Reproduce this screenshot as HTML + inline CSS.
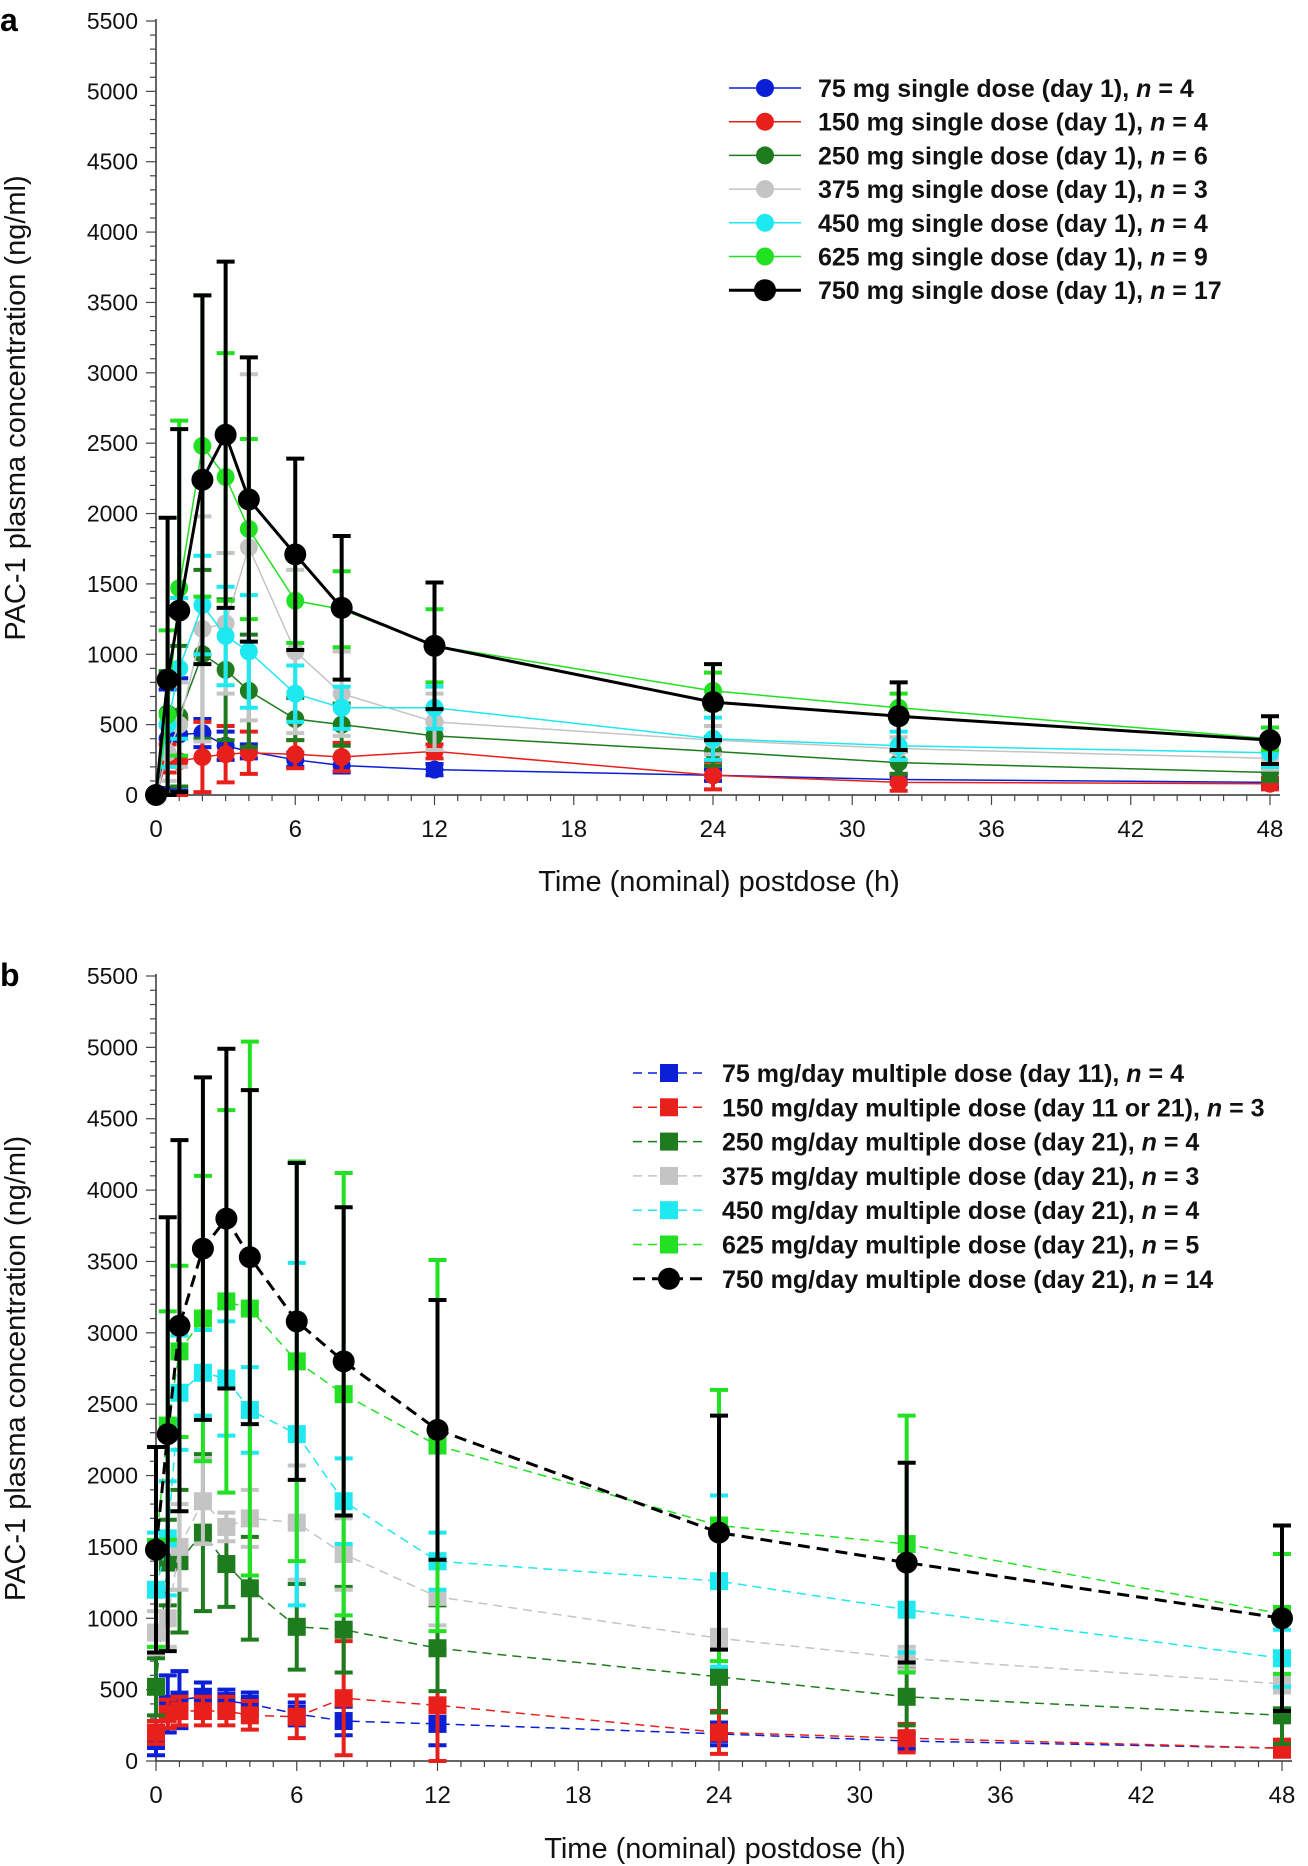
<!DOCTYPE html>
<html><head><meta charset="utf-8"><style>
html,body{margin:0;padding:0;background:#fff;}
svg{display:block;font-family:"Liberation Sans",Arial,sans-serif;}
</style></head><body>
<svg id="fig" width="1308" height="1866" viewBox="0 0 1308 1866" xmlns="http://www.w3.org/2000/svg"></svg>
<script>
const times=[0,0.5,1,2,3,4,6,8,12,24,32,48];
const xTicks=[0,6,12,18,24,30,36,42,48];
const yTicks=[0,500,1000,1500,2000,2500,3000,3500,4000,4500,5000,5500];
const colors=["#0a1fd6","#e8201c","#1e7b1e","#c4c4c4","#1ee8f0","#22e022","#000000"];
const labelsA=["75 mg single dose (day 1), ","150 mg single dose (day 1), ","250 mg single dose (day 1), ","375 mg single dose (day 1), ","450 mg single dose (day 1), ","625 mg single dose (day 1), ","750 mg single dose (day 1), "];
const nA=["4","4","6","3","4","9","17"];
const labelsB=["75 mg/day multiple dose (day 11), ","150 mg/day multiple dose (day 11 or 21), ","250 mg/day multiple dose (day 21), ","375 mg/day multiple dose (day 21), ","450 mg/day multiple dose (day 21), ","625 mg/day multiple dose (day 21), ","750 mg/day multiple dose (day 21), "];
const nB=["4","3","4","3","4","5","14"];
const a75=[0,400,430,440,350,310,250,210,180,140,110,90];
const a75sd=[0,350,400,100,100,50,50,50,40,40,30,30];
const a150=[0,260,240,270,290,300,290,270,310,140,90,80];
const a150sd=[0,100,300,250,200,150,100,100,50,100,60,40];
const a250=[0,580,560,1000,890,740,540,500,420,310,230,160];
const a250sd=[0,300,500,600,500,400,150,150,100,100,80,60];
const a375=[0,300,500,1180,1220,1760,1020,720,520,390,330,260];
const a375sd=[0,200,300,800,500,1230,580,300,200,100,80,80];
const a450=[0,500,900,1350,1130,1020,720,620,620,400,350,300];
const a450sd=[0,300,500,350,350,400,200,150,150,150,100,100];
const a625=[0,570,1470,2480,2260,1890,1380,1320,1060,740,620,400];
const a625sd=[0,600,1190,1070,880,640,300,270,260,130,100,80];
const a750=[0,820,1310,2240,2560,2100,1710,1330,1060,660,560,390];
const a750sd=[0,1150,1290,1310,1230,1010,680,510,450,270,240,170];
const b75=[140,400,430,450,420,400,330,280,260,190,140,90];
const b75sd=[100,200,200,100,80,80,80,100,150,80,60,40];
const b150=[200,330,350,350,350,320,310,440,390,200,160,90];
const b150sd=[80,100,100,100,100,100,150,400,400,150,100,60];
const b250=[520,1390,1400,1600,1380,1210,940,920,790,590,450,320];
const b250sd=[200,300,500,550,300,360,300,300,300,250,200,200];
const b375=[900,1000,1500,1820,1640,1700,1670,1450,1150,860,720,540];
const b375sd=[150,200,300,300,100,200,400,250,200,60,80,60];
const b450=[1200,1560,2580,2720,2680,2460,2290,1820,1400,1260,1060,720];
const b450sd=[400,400,400,300,400,300,1200,300,200,600,300,200];
const b625=[1500,2350,2870,3100,3220,3170,2800,2570,2210,1650,1520,1030];
const b625sd=[700,800,600,1000,1340,1870,1400,1550,1300,950,900,420];
const b750=[1480,2290,3050,3590,3800,3530,3080,2800,2320,1600,1390,1000];
const b750sd=[720,1520,1300,1200,1190,1170,1110,1080,910,820,700,650];

const NS="http://www.w3.org/2000/svg";
const svg=document.getElementById('fig');
function mk(tag,attrs,parent){const e=document.createElementNS(NS,tag);for(const k in attrs)e.setAttribute(k,attrs[k]);(parent||svg).appendChild(e);return e;}

function panel(cfg){
  const g=mk('g',{});
  
  
  const X=t=>cfg.x0+(cfg.x1-cfg.x0)*t/48;
  const Y=v=>cfg.y0-(cfg.y0-cfg.y1)*v/5500;
  const ax=mk('line',{x1:cfg.x0,y1:cfg.y0,x2:cfg.x0,y2:cfg.y1-2,stroke:'#333','stroke-width':1.5},g);
  
  
  const axx=mk('line',{x1:cfg.x0,y1:cfg.y0,x2:cfg.x1+10,y2:cfg.y0,stroke:'#333','stroke-width':1.5},g);
  
  
  for(let v=0;v<=5500;v+=100){const major=v%500===0;mk('line',{x1:cfg.x0-(major?10:6),x2:cfg.x0,y1:Y(v),y2:Y(v),stroke:'#444','stroke-width':1.2},g);}
  yTicks.forEach(v=>{const t=mk('text',{x:cfg.x0-18,y:Y(v)+8,'text-anchor':'end','font-size':23,fill:'#111'},g);t.textContent=v;
    
    });
  for(let h=0;h<=48;h++){const major=h%6===0;mk('line',{x1:X(h),x2:X(h),y1:cfg.y0,y2:cfg.y0+(major?10:6),stroke:'#444','stroke-width':1.2},g);}
  xTicks.forEach(h=>{const t=mk('text',{x:X(h),y:cfg.y0+42,'text-anchor':'middle','font-size':24,fill:'#111'},g);t.textContent=h;
    
    });
  const xt=mk('text',{x:(cfg.x0+cfg.x1)/2+6,y:cfg.xTitleY,'text-anchor':'middle','font-size':29,fill:'#111'},g);
  xt.textContent='Time (nominal) postdose (h)';
  
  
  const yc=(cfg.y0+cfg.y1)/2;
  const yt=mk('text',{x:0,y:0,transform:`translate(25,${yc}) rotate(-90)`,'text-anchor':'middle','font-size':29,fill:'#111'},g);
  yt.textContent='PAC-1 plasma concentration (ng/ml)';
  
  
  const pl=mk('text',{x:0,y:cfg.y1+10,'font-size':32,'font-weight':'bold',fill:'#000'},g);
  pl.textContent=cfg.letter;
  
  
  cfg.series.forEach((s,i)=>{
    const sg=mk('g',{},g);
    
    
    const big=i===6;
    const lw=big?3:1.5;
    const pts=times.map((t,j)=>X(t)+','+Y(s.m[j])).join(' ');
    mk('polyline',{points:pts,fill:'none',stroke:colors[i],'stroke-width':lw,'stroke-dasharray':cfg.dash?(big?'12,7':'9,6'):'none'},sg);
    times.forEach((t,j)=>{
      const x=X(t),m=s.m[j],sd=s.sd[j];
      if(sd>0){
        const lo=Math.max(0,m-sd),hi=m+sd;
        mk('line',{x1:x,x2:x,y1:Y(lo),y2:Y(hi),stroke:colors[i],'stroke-width':4},sg);
        [lo,hi].forEach(v=>mk('line',{x1:x-9,x2:x+9,y1:Y(v),y2:Y(v),stroke:colors[i],'stroke-width':4},sg));
      }
      let mark;
      if(cfg.dash&&!big){mark=mk('rect',{x:x-9,y:Y(m)-9,width:18,height:18,fill:colors[i]},sg);}
      else mark=mk('circle',{cx:x,cy:Y(m),r:big?11:9,fill:colors[i]},sg);
      
      
    });
  });
  const lg=mk('g',{},g);
  
  
  cfg.labels.forEach((lab,i)=>{
    const y=cfg.legY+i*cfg.legStep;
    const e=mk('g',{},lg);
    
    
    const big=i===6;
    mk('line',{x1:cfg.legX-36,x2:cfg.legX+36,y1:y,y2:y,stroke:colors[i],'stroke-width':big?3:1.5,'stroke-dasharray':cfg.dash?(big?'12,7':'9,6'):'none'},e);
    if(cfg.dash&&!big) mk('rect',{x:cfg.legX-9,y:y-9,width:18,height:18,fill:colors[i]},e);
    else mk('circle',{cx:cfg.legX,cy:y,r:big?11:9,fill:colors[i]},e);
    const t=mk('text',{x:cfg.legX+53,y:y+9,'font-size':25,'font-weight':'bold',fill:'#111'},e);
    t.textContent=lab;
    const ts=mk('tspan',{'font-style':'italic'},t);ts.textContent='n';
    const ts2=mk('tspan',{},t);ts2.textContent=' = '+cfg.ns[i];
  });
}
const doses=['75','150','250','375','450','625','750'];
panel({name:'panel-a',letter:'a',x0:156,x1:1270,y0:795,y1:21,xTitleY:891,dash:false,legX:765,legY:88,legStep:33.7,labels:labelsA,ns:nA,
  series:[[a75,a75sd],[a150,a150sd],[a250,a250sd],[a375,a375sd],[a450,a450sd],[a625,a625sd],[a750,a750sd]].map((p,i)=>({dose:doses[i],m:p[0],sd:p[1]}))});
panel({name:'panel-b',letter:'b',x0:156,x1:1282,y0:1761,y1:976,xTitleY:1858,dash:true,legX:669,legY:1073,legStep:34.3,labels:labelsB,ns:nB,
  series:[[b75,b75sd],[b150,b150sd],[b250,b250sd],[b375,b375sd],[b450,b450sd],[b625,b625sd],[b750,b750sd]].map((p,i)=>({dose:doses[i],m:p[0],sd:p[1]}))});
</script>
</body></html>
